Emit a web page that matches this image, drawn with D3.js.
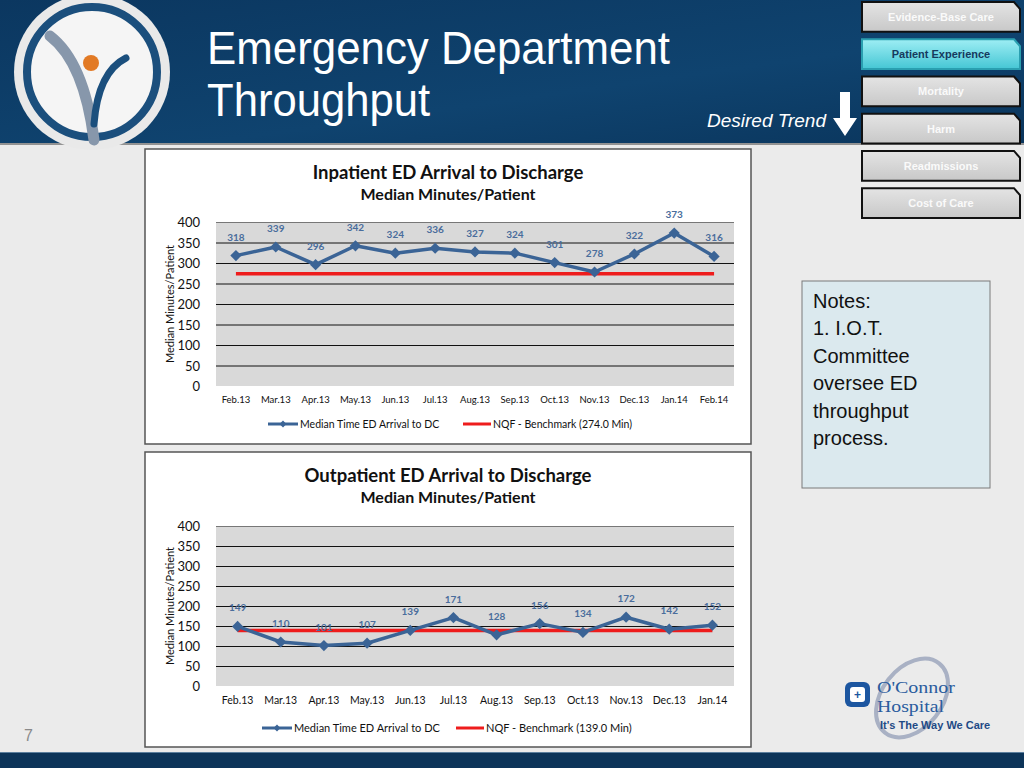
<!DOCTYPE html>
<html>
<head>
<meta charset="utf-8">
<script src="https://cdn.jsdelivr.net/npm/d3@7"></script>
<style>
  html, body { margin: 0; padding: 0; background: #ebebeb; }
  svg { display: block; }
</style>
</head>
<body>
<div id="slide"></div>
<script>
// chart data
const inMonths = ["Feb.13","Mar.13","Apr.13","May.13","Jun.13","Jul.13","Aug.13","Sep.13","Oct.13","Nov.13","Dec.13","Jan.14","Feb.14"];
const inValues = [318, 339, 296, 342, 324, 336, 327, 324, 301, 278, 322, 373, 316];
const inBenchmark = 274.0;

const outMonths = ["Feb.13","Mar.13","Apr.13","May.13","Jun.13","Jul.13","Aug.13","Sep.13","Oct.13","Nov.13","Dec.13","Jan.14"];
const outValues = [149, 110, 101, 107, 139, 171, 128, 156, 134, 172, 142, 152];
const outBenchmark = 139.0;

const yTicks = [0, 50, 100, 150, 200, 250, 300, 350, 400];
const menuItems = ["Evidence-Base Care", "Patient Experience", "Mortality", "Harm", "Readmissions", "Cost of Care"];
const noteLines = ["Notes:", "1. I.O.T.", "Committee", "oversee ED", "throughput", "process."];

const W = 1024, H = 768;
const chartFont = "Lato, 'Open Sans', sans-serif";
const lineBlue = "#3b6496";

const svg = d3.select("#slide").append("svg")
  .attr("width", W)
  .attr("height", H);

const defs = svg.append("defs");

// header gradient
const hg = defs.append("linearGradient").attr("id", "hdr")
  .attr("x1", "0").attr("y1", "0").attr("x2", "1").attr("y2", "1");
hg.append("stop").attr("offset", "0").attr("stop-color", "#0b3760");
hg.append("stop").attr("offset", "0.6").attr("stop-color", "#0f436f");
hg.append("stop").attr("offset", "1").attr("stop-color", "#0a355c");

const greyBtn = defs.append("linearGradient").attr("id", "btnGrey")
  .attr("x1", "0").attr("y1", "0").attr("x2", "0").attr("y2", "1");
greyBtn.append("stop").attr("offset", "0").attr("stop-color", "#e4e4e4");
greyBtn.append("stop").attr("offset", "1").attr("stop-color", "#c8c8c8");

const cyanBtn = defs.append("linearGradient").attr("id", "btnCyan")
  .attr("x1", "0").attr("y1", "0").attr("x2", "0").attr("y2", "1");
cyanBtn.append("stop").attr("offset", "0").attr("stop-color", "#9eeef4");
cyanBtn.append("stop").attr("offset", "1").attr("stop-color", "#45c6d4");

// background pieces
svg.append("rect").attr("width", W).attr("height", H).attr("fill", "#ebebeb");
svg.append("rect").attr("width", W).attr("height", 143).attr("fill", "url(#hdr)");
svg.append("rect").attr("y", 143).attr("width", W).attr("height", 2).attr("fill", "#3a3a3a").attr("opacity", 0.5);
svg.append("rect").attr("y", 752).attr("width", W).attr("height", 16).attr("fill", "#0c3459");
svg.append("rect").attr("y", 752).attr("width", W).attr("height", 1).attr("fill", "#5c7f9e");

// left logo
const logo = svg.append("g").attr("transform", "translate(92,72)");
logo.append("circle").attr("r", 78).attr("fill", "#e9e9e9");
logo.append("circle").attr("r", 65).attr("fill", "#f5f5f5")
  .attr("stroke", "#1b4f7d").attr("stroke-width", 8);
logo.append("path")
  .attr("d", "M-42,-36 Q-8,-10 2,68")
  .attr("fill", "none").attr("stroke", "#8797ab").attr("stroke-width", 11).attr("stroke-linecap", "round");
logo.append("path")
  .attr("d", "M34,-14 Q6,0 2,52")
  .attr("fill", "none").attr("stroke", "#1b4f7d").attr("stroke-width", 7).attr("stroke-linecap", "round");
logo.append("circle").attr("cx", -1).attr("cy", -9).attr("r", 8).attr("fill", "#e27a25");

// title
svg.append("text").attr("x", 207).attr("y", 64)
  .attr("fill", "#fff").style("font", "46px 'Liberation Sans', Arial, sans-serif")
  .attr("textLength", 463).attr("lengthAdjust", "spacingAndGlyphs")
  .text("Emergency Department");
svg.append("text").attr("x", 207).attr("y", 116)
  .attr("fill", "#fff").style("font", "46px 'Liberation Sans', Arial, sans-serif")
  .attr("textLength", 223).attr("lengthAdjust", "spacingAndGlyphs")
  .text("Throughput");

svg.append("text").attr("x", 826).attr("y", 127).attr("text-anchor", "end")
  .attr("fill", "#fff").style("font", "italic 19px 'Liberation Sans', Arial, sans-serif")
  .text("Desired Trend");
svg.append("path")
  .attr("d", "M840,92 L850,92 L850,118 L857,118 L845,136 L833,118 L840,118 Z")
  .attr("fill", "#fff");

// right side menu
const btnY = d3.scaleBand().domain(menuItems).range([2, 218]).paddingInner(0.2);
const btn = svg.selectAll("g.btn").data(menuItems).enter().append("g")
  .attr("class", "btn")
  .attr("transform", d => "translate(862," + btnY(d) + ")");
btn.append("path")
  .attr("d", "M0,0 L152,0 L158,7 L158," + btnY.bandwidth() + " L0," + btnY.bandwidth() + " Z")
  .attr("fill", d => d === "Patient Experience" ? "url(#btnCyan)" : "url(#btnGrey)")
  .attr("stroke", d => d === "Patient Experience" ? "#2a9fb0" : "#111")
  .attr("stroke-width", 2);
btn.append("text")
  .attr("x", 79).attr("y", btnY.bandwidth() / 2 + 4)
  .attr("text-anchor", "middle")
  .attr("fill", d => d === "Patient Experience" ? "#163a5e" : "#fafafa")
  .style("font", "bold 11px 'Liberation Sans', Arial, sans-serif")
  .text(d => d);

// notes box
svg.append("rect").attr("x", 802).attr("y", 281).attr("width", 188).attr("height", 207)
  .attr("fill", "#dbe9ee").attr("stroke", "#7a7a7a").attr("stroke-width", 1);
svg.append("text").attr("x", 813).attr("y", 308)
  .style("font", "20px 'Liberation Sans', Arial, sans-serif").attr("fill", "#111")
  .selectAll("tspan").data(noteLines).enter().append("tspan")
  .attr("x", 813).attr("dy", (d, i) => i === 0 ? 0 : 27.4)
  .text(d => d);

// page number
svg.append("text").attr("x", 24).attr("y", 741)
  .attr("fill", "#8a8a8a").style("font", "16px 'Liberation Sans', Arial, sans-serif")
  .text("7");

// O'Connor logo
const oc = svg.append("g");
oc.append("ellipse").attr("cx", 912).attr("cy", 698).attr("rx", 30).attr("ry", 44)
  .attr("transform", "rotate(38,912,698)")
  .attr("fill", "none").attr("stroke", "#a9b1c4").attr("stroke-width", 4);
oc.append("rect").attr("x", 845).attr("y", 682).attr("width", 25).attr("height", 25).attr("rx", 6)
  .attr("fill", "#1c56a0");
oc.append("rect").attr("x", 850).attr("y", 687).attr("width", 15).attr("height", 15).attr("rx", 3)
  .attr("fill", "#fff");
oc.append("text").attr("x", 857.5).attr("y", 699).attr("text-anchor", "middle")
  .attr("fill", "#1c56a0").style("font", "bold 12px 'Liberation Sans', Arial").text("+");
oc.append("text").attr("x", 877).attr("y", 693)
  .attr("fill", "#2a5c9e").style("font", "16px 'Liberation Serif', 'DejaVu Serif', serif")
  .attr("textLength", 78).attr("lengthAdjust", "spacingAndGlyphs").text("O'Connor");
oc.append("text").attr("x", 877).attr("y", 712)
  .attr("fill", "#2a5c9e").style("font", "16px 'Liberation Serif', 'DejaVu Serif', serif")
  .attr("textLength", 67).attr("lengthAdjust", "spacingAndGlyphs").text("Hospital");
oc.append("text").attr("x", 880).attr("y", 729)
  .attr("fill", "#1f4a85").style("font", "bold 11px 'Liberation Sans Narrow', 'Liberation Sans', Arial").text("It's The Way We Care");

function drawChart(cfg) {
  const box = svg.append("g");
  box.append("rect")
    .attr("x", cfg.box[0]).attr("y", cfg.box[1])
    .attr("width", cfg.box[2]).attr("height", cfg.box[3])
    .attr("fill", "#fff").attr("stroke", "#555").attr("stroke-width", 1.5);

  const x = d3.scaleBand().domain(cfg.months).range([cfg.left, cfg.right]);
  const y = d3.scaleLinear().domain([0, 400]).range([cfg.bottom, cfg.top]);
  const cx = d => x(d) + x.bandwidth() / 2;

  box.append("rect")
    .attr("x", cfg.left).attr("y", cfg.top)
    .attr("width", cfg.right - cfg.left).attr("height", cfg.bottom - cfg.top)
    .attr("fill", "#d9d9d9");

  // gridlines
  box.append("g")
    .attr("transform", "translate(" + cfg.left + ",0)")
    .call(d3.axisLeft(y).tickValues(yTicks).tickSize(-(cfg.right - cfg.left)).tickFormat(""))
    .call(g => g.select(".domain").remove())
    .call(g => g.selectAll("line").attr("stroke", (d) => d === 0 ? "none" : (d === 400 ? "#777" : "#111")));

  // y tick labels
  box.append("g")
    .attr("transform", "translate(" + (cfg.left - 13) + ",0)")
    .call(d3.axisLeft(y).tickValues(yTicks).tickSize(0))
    .call(g => g.select(".domain").remove())
    .call(g => g.selectAll("text").attr("fill", "#111").attr("dy", "0.35em")
      .style("font", "13px " + chartFont));

  // x labels
  box.append("g")
    .attr("transform", "translate(0," + cfg.bottom + ")")
    .call(d3.axisBottom(x).tickSize(0))
    .call(g => g.select(".domain").remove())
    .call(g => g.selectAll("text").attr("fill", "#111").attr("y", cfg.xLabelDy)
      .style("font", cfg.xFont + "px " + chartFont));

  // axis title
  box.append("text")
    .attr("transform", "translate(" + cfg.yTitleX + "," + ((cfg.top + cfg.bottom) / 2) + ") rotate(-90)")
    .attr("text-anchor", "middle").attr("fill", "#111")
    .style("font", "11px " + chartFont)
    .text("Median Minutes/Patient");

  // titles
  const mid = cfg.box[0] + cfg.box[2] / 2;
  box.append("text").attr("x", mid).attr("y", cfg.box[1] + 30)
    .attr("text-anchor", "middle").attr("fill", "#111")
    .style("font", "bold 18.5px " + chartFont).text(cfg.title);
  box.append("text").attr("x", mid).attr("y", cfg.box[1] + 51)
    .attr("text-anchor", "middle").attr("fill", "#111")
    .style("font", "bold 16px " + chartFont).text("Median Minutes/Patient");

  // benchmark
  box.append("line")
    .attr("x1", cx(cfg.months[0])).attr("x2", cx(cfg.months[cfg.months.length - 1]))
    .attr("y1", y(cfg.bench)).attr("y2", y(cfg.bench))
    .attr("stroke", "#ee1c1c").attr("stroke-width", 3.5);

  // series line
  const pts = cfg.months.map((m, i) => ({ m: m, v: cfg.values[i] }));
  box.append("path").datum(pts)
    .attr("fill", "none").attr("stroke", lineBlue).attr("stroke-width", 3.5)
    .attr("stroke-linejoin", "round")
    .attr("d", d3.line().x(d => cx(d.m)).y(d => y(d.v)));

  box.selectAll("path.mk").data(pts).enter().append("path")
    .attr("class", "mk")
    .attr("transform", d => "translate(" + cx(d.m) + "," + y(d.v) + ")")
    .attr("d", d3.symbol().type(d3.symbolDiamond2).size(80))
    .attr("fill", lineBlue);

  box.selectAll("text.lbl").data(pts).enter().append("text")
    .attr("class", "lbl")
    .attr("x", d => cx(d.m)).attr("y", d => y(d.v) - 15)
    .attr("text-anchor", "middle").attr("fill", "#4a6d9c")
    .style("font", "bold 10px " + chartFont)
    .text(d => d.v);

  // legend
  const lg = box.append("g").attr("transform", "translate(0," + cfg.legendY + ")");
  lg.append("line").attr("x1", cfg.legX[0]).attr("x2", cfg.legX[0] + 30)
    .attr("stroke", lineBlue).attr("stroke-width", 3);
  lg.append("path").attr("transform", "translate(" + (cfg.legX[0] + 15) + ",0)")
    .attr("d", d3.symbol().type(d3.symbolDiamond2).size(30)).attr("fill", lineBlue);
  lg.append("text").attr("x", cfg.legX[0] + 32).attr("dy", "0.35em").attr("fill", "#111")
    .style("font", cfg.legFont + "px " + chartFont).text("Median Time ED Arrival to DC");
  lg.append("line").attr("x1", cfg.legX[1]).attr("x2", cfg.legX[1] + 28)
    .attr("stroke", "#ee1c1c").attr("stroke-width", 3);
  lg.append("text").attr("x", cfg.legX[1] + 30).attr("dy", "0.35em").attr("fill", "#111")
    .style("font", cfg.legFont + "px " + chartFont)
    .text("NQF - Benchmark (" + cfg.bench.toFixed(1) + " Min)");
}

drawChart({
  box: [145, 149, 606, 295],
  title: "Inpatient ED Arrival to Discharge",
  months: inMonths, values: inValues, bench: inBenchmark,
  left: 216, right: 734, top: 222, bottom: 386,
  xLabelDy: 10, xFont: 9.5, yTitleX: 174,
  legendY: 424, legX: [268, 463], legFont: 10.5
});

drawChart({
  box: [145, 452, 606, 295],
  title: "Outpatient ED Arrival to Discharge",
  months: outMonths, values: outValues, bench: outBenchmark,
  left: 216, right: 734, top: 526, bottom: 686,
  xLabelDy: 11, xFont: 10.5, yTitleX: 174,
  legendY: 728, legX: [262, 456], legFont: 11
});
</script>
</body>
</html>
